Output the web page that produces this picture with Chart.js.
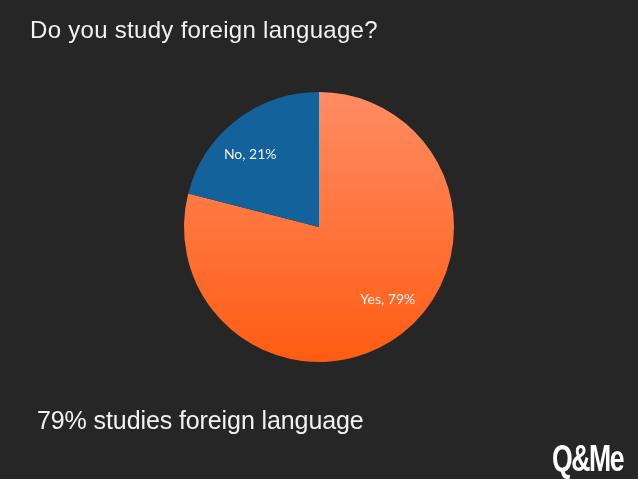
<!DOCTYPE html>
<html>
<head>
<meta charset="utf-8">
<script src="https://cdn.jsdelivr.net/npm/chart.js@4.4.1/dist/chart.umd.min.js"></script>
<style>
  html, body { margin:0; padding:0; background:#262626; overflow:hidden; }
  #wrap { position:relative; width:638px; height:479px; background:#262626; }
  canvas { position:absolute; left:0; top:0; }
  .t { position:absolute; color:#f2f2f2; font-family:"Liberation Sans", Arial, sans-serif; white-space:nowrap; }
  #title { left:30px; top:16px; font-size:24px; letter-spacing:0.3px; }
  #sub { left:37px; top:406px; font-size:25px; letter-spacing:-0.1px; }
  #logo { left:552px; top:441px; font-size:36px; line-height:36px; font-weight:bold; letter-spacing:-2px; color:#fff; transform:scaleX(0.74); transform-origin:left top; }
</style>
</head>
<body>
<div id="wrap">
  <canvas id="c" width="638" height="479"></canvas>
  <div class="t" id="title">Do you study foreign language?</div>
  <div class="t" id="sub">79% studies foreign language</div>
  <div class="t" id="logo">Q&amp;Me</div>
</div>
<script>
const categories = ["Yes", "No"];
const values = [79, 21];

const ctx = document.getElementById('c').getContext('2d');

const labelPlugin = {
  id: 'sliceLabels',
  afterDatasetsDraw(chart) {
    const meta = chart.getDatasetMeta(0);
    const c = chart.ctx;
    c.save();
    c.fillStyle = '#f4f4f4';
    c.font = '14px Lato, "Open Sans", sans-serif';
    c.textAlign = 'center';
    c.textBaseline = 'middle';
    meta.data.forEach((arc, i) => {
      const mid = (arc.startAngle + arc.endAngle) / 2 - 0.1;
      const r = arc.outerRadius * 0.74;
      const x = arc.x + Math.cos(mid) * r;
      const y = arc.y + Math.sin(mid) * r;
      c.fillText(categories[i] + ', ' + values[i] + '%', x, y);
    });
    c.restore();
  }
};

const chart = new Chart(ctx, {
  type: 'pie',
  data: {
    labels: categories,
    datasets: [{
      data: values,
      backgroundColor: function(context) {
        const ch = context.chart;
        const area = ch.chartArea;
        if (!area) return '#FF7040';
        if (context.dataIndex === 1) return '#14629C';
        const g = ch.ctx.createLinearGradient(0, area.top, 0, area.bottom);
        g.addColorStop(0, '#FF8C64');
        g.addColorStop(1, '#FF5C12');
        return g;
      },
      borderWidth: 0
    }]
  },
  options: {
    responsive: false,
    animation: false,
    layout: { padding: { left: 184, right: 184, top: 92, bottom: 117 } },
    plugins: {
      legend: { display: false },
      tooltip: { enabled: false },
      title: { display: false }
    }
  },
  plugins: [labelPlugin]
});
</script>
</body>
</html>
